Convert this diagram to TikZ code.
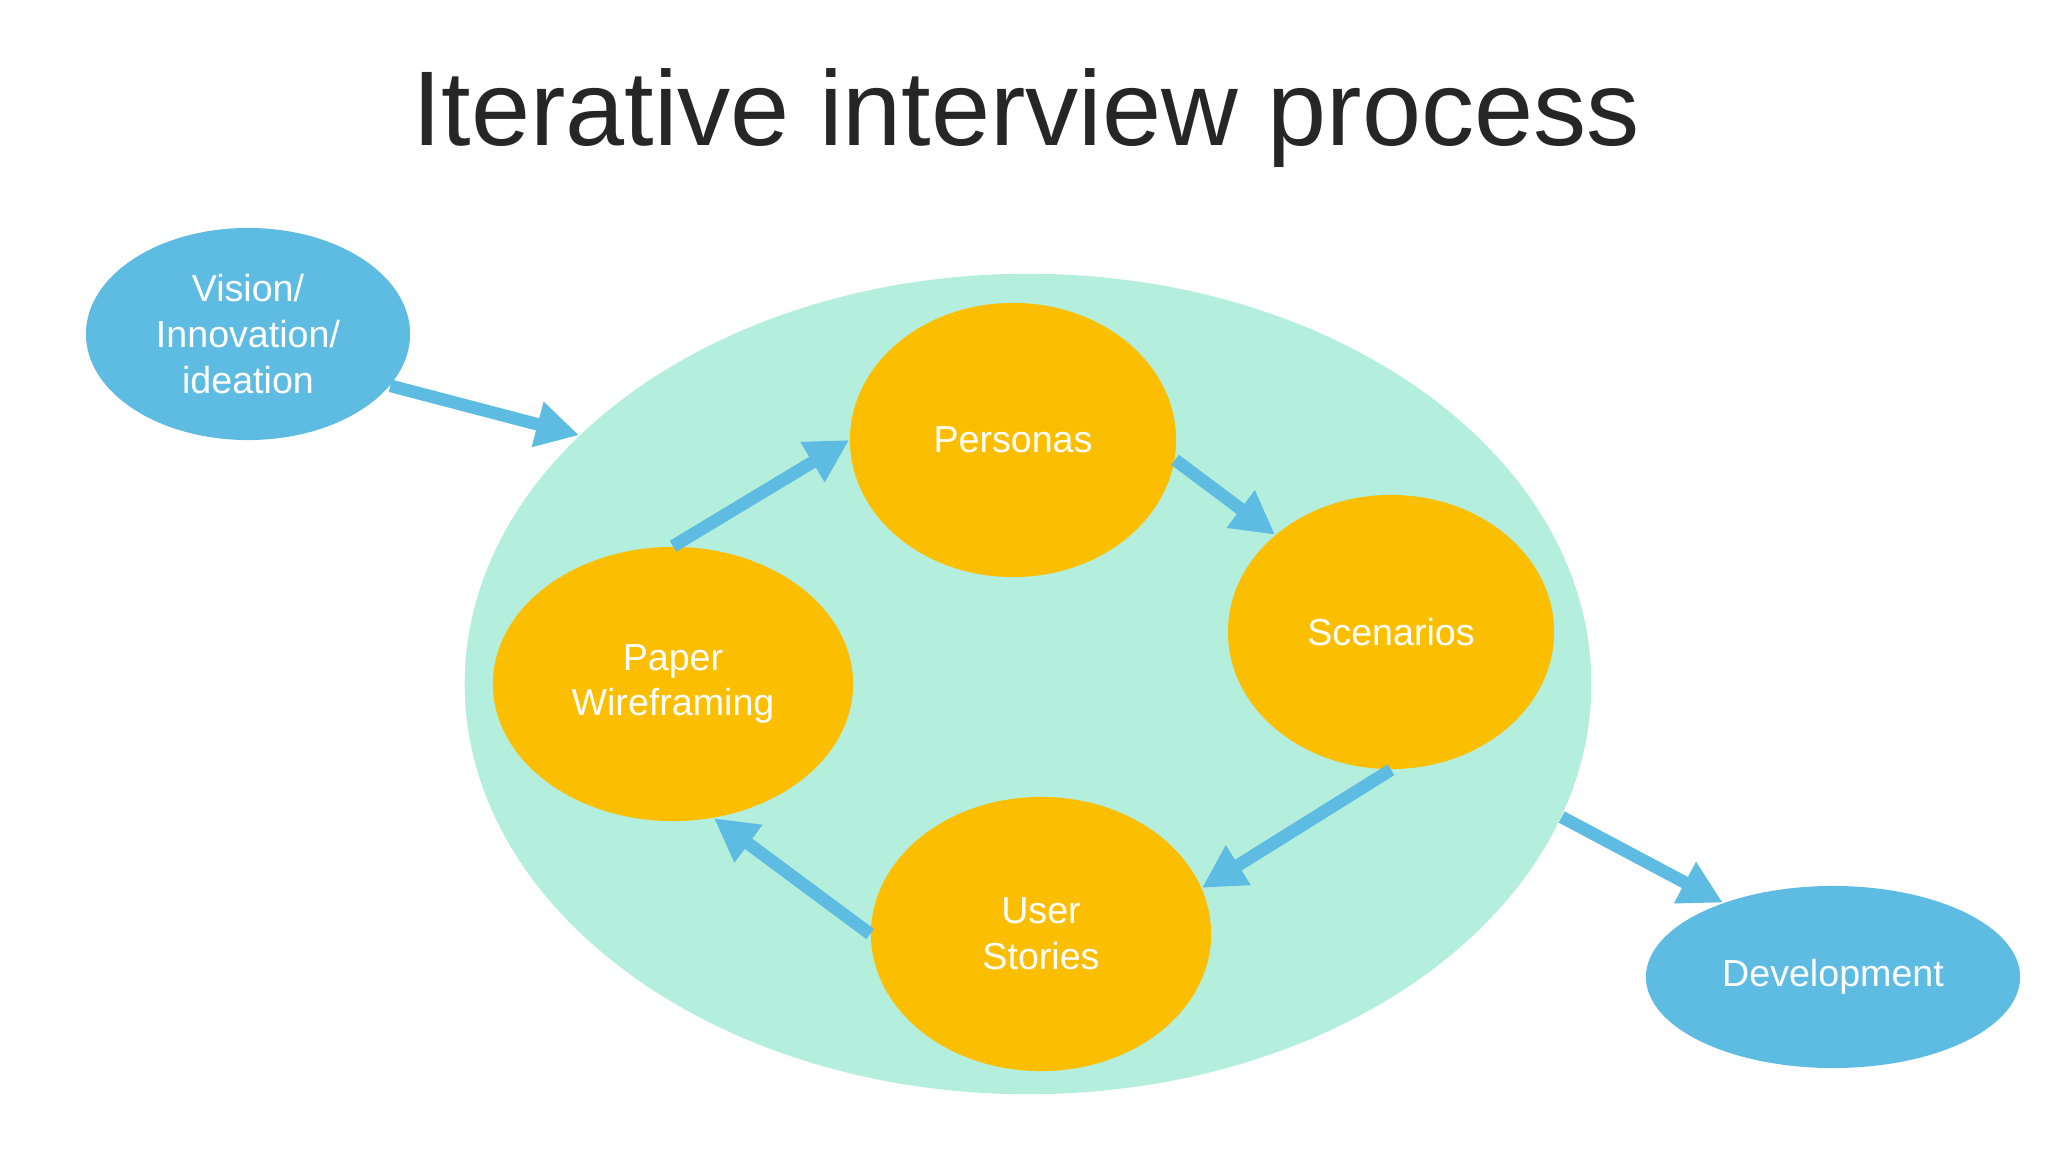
\documentclass[tikz,border=0pt]{standalone}
\usepackage{fontspec}
\setmainfont{Liberation Sans}
\usetikzlibrary{arrows.meta,shapes.geometric}
\definecolor{mint}{HTML}{B4EEDC}
\definecolor{sky}{HTML}{5EBCE2}
\definecolor{amber}{HTML}{FCBE00}
\definecolor{ink}{HTML}{262626}

\begin{document}
\begin{tikzpicture}[x=0.01cm,y=-0.01cm,
  blob/.style={ellipse,inner sep=0pt,align=center,text=white,
    font=\fontsize{10.7}{13}\selectfont},
  stage/.style={blob,fill=amber,minimum height=2.74cm},
  outer/.style={blob,fill=sky},
  flow/.style={-{Triangle[length=12.2pt,width=12.5pt]},line width=3.6pt,draw=sky}]
\useasboundingbox (0,0) rectangle (2048,1152);
\node[font=\fontsize{30.2}{36}\selectfont,text=ink,anchor=base] (title) at (1026,146) {Iterative interview process};
\node[ellipse,fill=mint,minimum width=11.26cm,minimum height=8.2cm] (loop) at (1028,684) {};
\node[outer,minimum width=3.24cm,minimum height=2.12cm] (vision) at (248,334) {Vision/\\Innovation/\\ideation};
\node[outer,minimum width=3.74cm,minimum height=1.82cm] (dev) at (1833,977) {Development};
\node[stage,minimum width=3.26cm] (personas) at (1013,440) {Personas};
\node[stage,minimum width=3.26cm] (scen) at (1391,632) {Scenarios};
\node[stage,minimum width=3.6cm] (paper) at (673,684) {Paper\\Wireframing};
\node[stage,minimum width=3.4cm] (stories) at (1041,934) {User\\Stories};
\draw[flow] (vision.-20) -- (loop.151);
\draw[flow] (paper.north) -- (personas.west);
\draw[flow] (personas.-7) -- (scen.140);
\draw[flow] (scen.south) -- (stories.16);
\draw[flow] (stories.west) -- (paper.-73);
\draw[flow] (loop.-14.5) -- (dev.146);
\end{tikzpicture}
\end{document}
